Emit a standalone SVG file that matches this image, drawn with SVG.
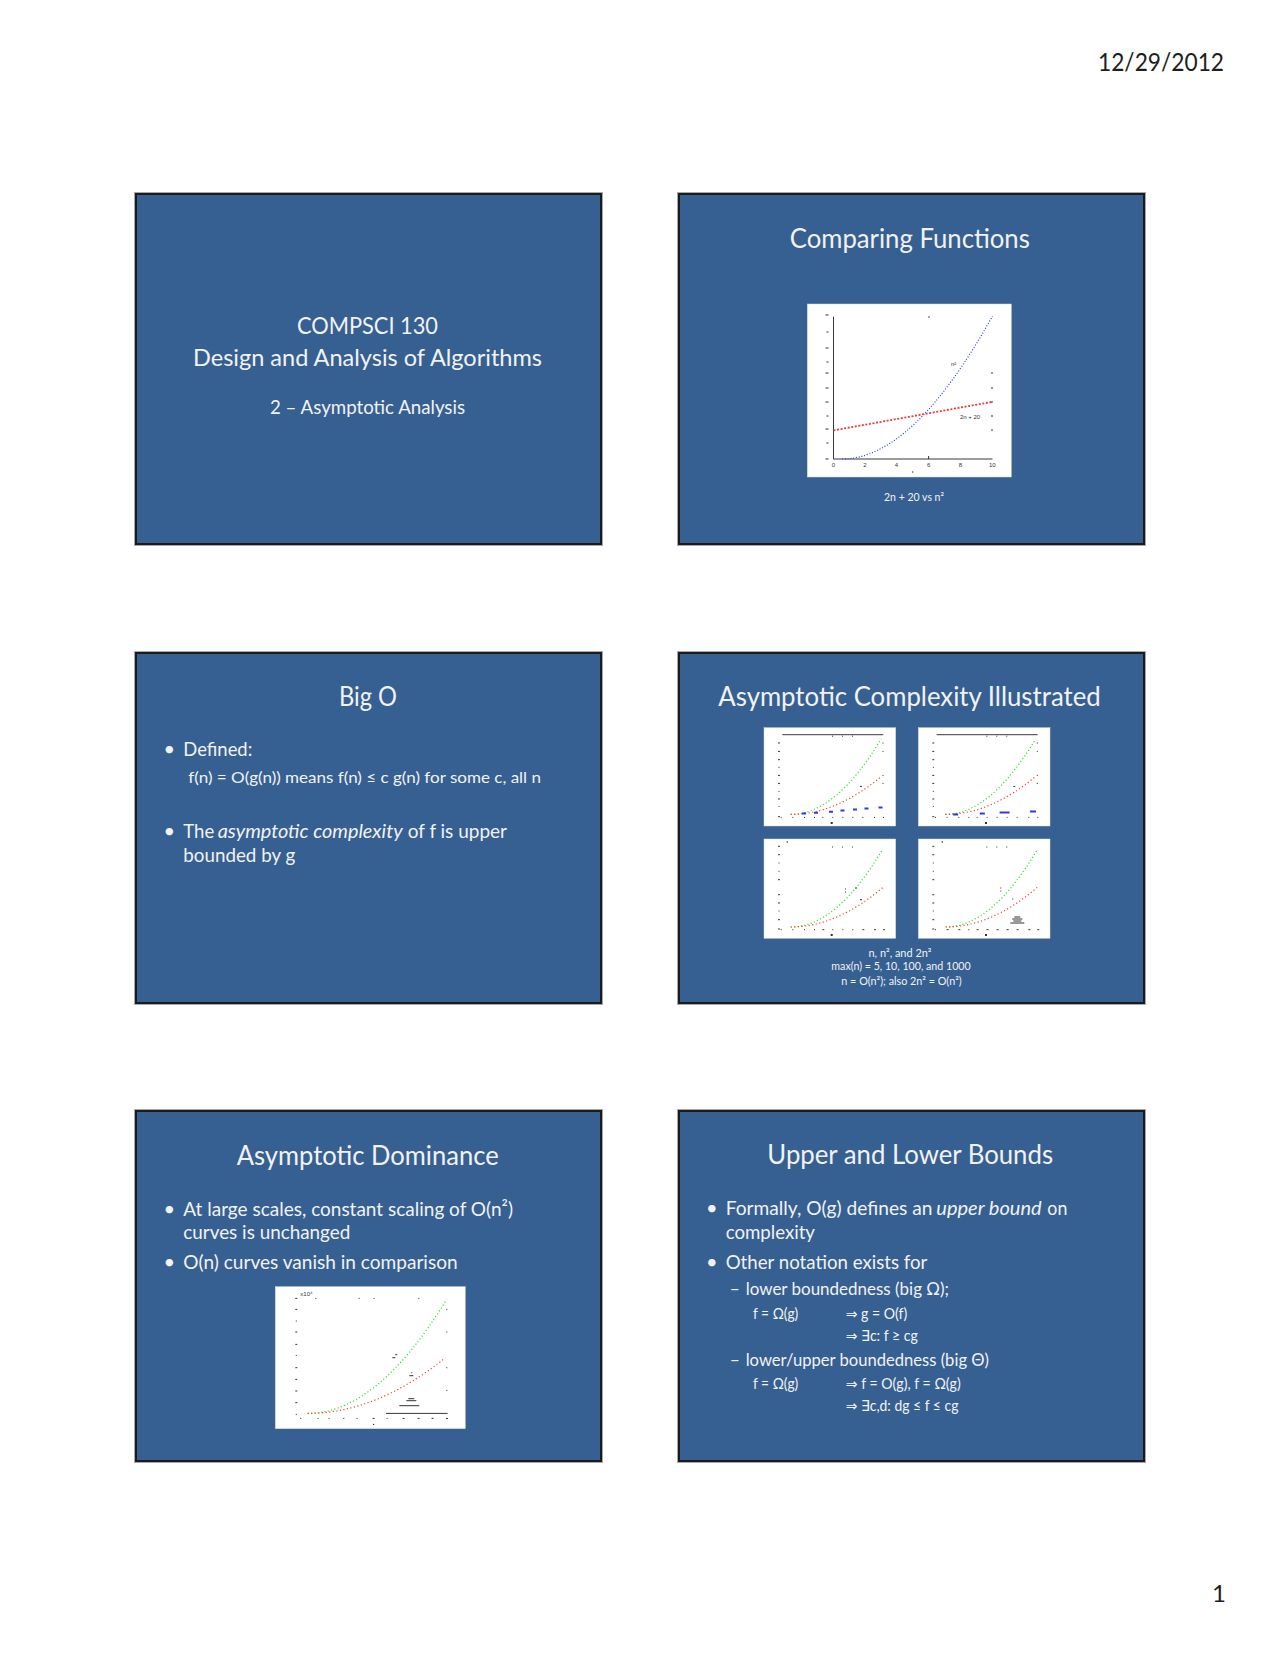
<svg xmlns="http://www.w3.org/2000/svg" width="1280" height="1656" viewBox="0 0 1280 1656">
<style>
.page{fill:#ffffff}
.slide{fill:#366092;stroke:#1b1b1b;stroke-width:2}
.halo{fill:none;stroke:#a8a8a8;stroke-width:1}
.t{font-family:Lato,"Open Sans","DejaVu Sans",sans-serif;fill:#f2f2f2}
.hdr{font-family:Lato,"Open Sans","DejaVu Sans",sans-serif;fill:#1e1e1e}
.title{font-size:27px}
.big{font-size:24px}
.body{font-size:20px}
.sub{font-size:17.5px}
.small{font-size:15px}
.form{font-size:16px}
.cap{font-size:11px}
.it{font-style:italic}
.chart{fill:#ffffff;stroke:#d8d8d8;stroke-width:0.5}
.ax{stroke:#222;stroke-width:0.9;fill:none}
.tk{stroke:#333;stroke-width:1;fill:none}
.dot{fill:#333}
.lbl{font-family:"Liberation Sans",sans-serif;font-size:6px;fill:#333}
.blu{fill:none;stroke:#2a3de0;stroke-width:1.2;stroke-dasharray:1 1.8}
.red{fill:none;stroke:#f03a3a;stroke-width:1.8;stroke-dasharray:2 1.6}
.grn{fill:none;stroke:#2ee02e;stroke-width:1.2;stroke-dasharray:1.2 2.2}
.rd2{fill:none;stroke:#f04040;stroke-width:1.2;stroke-dasharray:1.2 2.4}
.bar{stroke:#2a3de0;stroke-width:2}
</style>
<rect class="page" x="0" y="0" width="1280" height="1656"/>

<g id="header">
<text class="hdr" x="1224" y="71" font-size="25" text-anchor="end" textLength="126" lengthAdjust="spacingAndGlyphs">12/29/2012</text>
</g>
<g id="footer">
<text class="hdr" x="1226" y="1602" font-size="24" text-anchor="end">1</text>
</g>

<!-- Slide 1 -->
<g id="slide1" transform="translate(136,194)">
<rect class="halo" x="-1.5" y="-1.5" width="468" height="353"/>
<rect class="slide" x="0" y="0" width="465" height="350"/>
<text class="t big" x="231.5" y="140" text-anchor="middle" textLength="141" lengthAdjust="spacingAndGlyphs">COMPSCI 130</text>
<text class="t big" x="231.5" y="171.7" text-anchor="middle" textLength="349" lengthAdjust="spacingAndGlyphs">Design and Analysis of Algorithms</text>
<text class="t" font-size="19.5" x="231.5" y="220" text-anchor="middle" textLength="195" lengthAdjust="spacingAndGlyphs">2 – Asymptotic Analysis</text>
</g>

<!-- Slide 2 -->
<g id="slide2" transform="translate(679,194)">
<rect class="halo" x="-1.5" y="-1.5" width="468" height="353"/>
<rect class="slide" x="0" y="0" width="465" height="350"/>
<text class="t title" x="230.8" y="54.3" text-anchor="middle" textLength="240" lengthAdjust="spacingAndGlyphs">Comparing Functions</text>
<g id="chart-compare">
<rect class="chart" x="128.3" y="110" width="204" height="173"/>
<path class="ax" d="M154.5,122.7 V265 H313.5"/>
<path class="tk" d="M146.5,121h3M147.5,138h2M146.5,154h3M147.5,168h2M146.5,179h3M146.5,194h3M146.5,208h3M147.5,222h2M146.5,235h3M147.5,249h2M146.5,265h3"/>
<path class="tk" d="M312,179h2M312,194h2M312,208h2M312,222h2M312,236h2M249.6,265v-3"/>
<circle class="dot" cx="250" cy="123" r="0.8"/>
<circle class="dot" cx="233.7" cy="278" r="0.7"/>
<text class="lbl" x="154.5" y="273" text-anchor="middle">0</text>
<text class="lbl" x="186" y="273" text-anchor="middle">2</text>
<text class="lbl" x="217.5" y="273" text-anchor="middle">4</text>
<text class="lbl" x="249.6" y="273" text-anchor="middle">6</text>
<text class="lbl" x="281.4" y="273" text-anchor="middle">8</text>
<text class="lbl" x="313.3" y="273" text-anchor="middle">10</text>
<path class="blu" d="M163,265 Q234,265 313.5,122"/>
<path class="red" d="M154.5,236.4 L313.5,207.8"/>
<text class="lbl" x="272" y="172" font-size="7">n²</text>
<text class="lbl" x="281" y="225" font-size="7">2n + 20</text>
</g>
<text class="t cap" x="235" y="306.7" text-anchor="middle" textLength="60" lengthAdjust="spacingAndGlyphs">2n + 20 vs n²</text>
</g>

<!-- Slide 3 -->
<g id="slide3" transform="translate(136,653)">
<rect class="halo" x="-1.5" y="-1.5" width="468" height="353"/>
<rect class="slide" x="0" y="0" width="465" height="350"/>
<text class="t title" x="232" y="53.3" text-anchor="middle" textLength="58" lengthAdjust="spacingAndGlyphs">Big O</text>
<text class="t body" x="27.5" y="103.3">•</text>
<text class="t body" x="47.3" y="103.3" textLength="69" lengthAdjust="spacingAndGlyphs">Defined:</text>
<text class="t form" x="52.3" y="130" textLength="352.7" lengthAdjust="spacingAndGlyphs">f(n) = O(g(n)) means f(n) ≤ c g(n) for some c, all n</text>
<text class="t body" x="27.5" y="185">•</text>
<text class="t body" x="47.3" y="185" textLength="31" lengthAdjust="spacingAndGlyphs">The</text>
<text class="t body it" x="81.7" y="185" textLength="185" lengthAdjust="spacingAndGlyphs">asymptotic complexity</text>
<text class="t body" x="271.7" y="185" textLength="99.3" lengthAdjust="spacingAndGlyphs">of f is upper</text>
<text class="t body" x="47.3" y="209" textLength="112" lengthAdjust="spacingAndGlyphs">bounded by g</text>
</g>

<!-- Slide 4 -->
<g id="slide4" transform="translate(679,653)">
<rect class="halo" x="-1.5" y="-1.5" width="468" height="353"/>
<rect class="slide" x="0" y="0" width="465" height="350"/>
<text class="t title" x="230.5" y="53.3" text-anchor="middle" textLength="382.4" lengthAdjust="spacingAndGlyphs">Asymptotic Complexity Illustrated</text>

<g id="mini-tl" transform="translate(85,74.7)">
<rect class="chart" x="0" y="0" width="131.7" height="98.3"/>
<path class="ax" d="M18.3,7 H119.3"/>
<path class="tk" d="M14,15.3h2M14,23.7h2M14,32h2M14.5,39.7h1M14,47.7h2M14,55.7h2M14.5,63.7h1M14,71.3h2M14.5,78.7h1M14,89h2"/>
<path class="tk" d="M16.7,89.7h1M28.3,89.7h1M40,89.7h1M50,89.7h1M58.3,89.7h1M68.3,89.7h1M78.3,89.7h1M88.3,89.7h1M98.3,89.7h1M110,89.7h1M119,89.7h1M118.5,15.3h1M118.5,23.7h1M118.5,47.7h1M118.5,55.7h1M68,8.5h1M78,8.5h1M88,8.5h1M96,58.7h2"/>
<rect class="dot" x="66.7" y="94.3" width="2" height="2"/>
<path class="grn" d="M26.7,86.7 Q72,86.7 117.3,11"/>
<path class="rd2" d="M26.7,86.7 Q72,86.7 117.3,48.8"/>
<path class="bar" d="M38,85.7h4M50,85h4M65,84h4M76.5,82.7h4M89,81.7h4M100.5,80.7h4M114.5,79.7h4"/>
</g>

<g id="mini-tr" transform="translate(239.3,74.7)">
<rect class="chart" x="0" y="0" width="131.7" height="98.3"/>
<path class="ax" d="M18.3,7 H119.3"/>
<path class="tk" d="M14,15.3h2M14,23.7h2M14,32h2M14.5,39.7h1M14,47.7h2M14,55.7h2M14.5,63.7h1M14,71.3h2M14.5,78.7h1M14,89h2"/>
<path class="tk" d="M16.7,89.7h1M28.3,89.7h1M40,89.7h1M50,89.7h1M58.3,89.7h1M68.3,89.7h1M78.3,89.7h1M88.3,89.7h1M98.3,89.7h1M110,89.7h1M119,89.7h1M118.5,15.3h1M118.5,23.7h1M118.5,47.7h1M118.5,55.7h1M68,8.5h1M78,8.5h1M88,8.5h1M95,58.7h2"/>
<rect class="dot" x="66.7" y="94.3" width="2" height="2"/>
<path class="grn" d="M27,86.7 Q72,86.7 117.3,11.3"/>
<path class="rd2" d="M27,86.7 Q72,86.7 117.3,48.7"/>
<path class="bar" d="M34.8,86.7h5M61.5,85.7h5M81.3,84.7h10M111.7,83.7h6"/>
</g>

<g id="mini-bl" transform="translate(85,186)">
<rect class="chart" x="0" y="0" width="131.7" height="99.3"/>
<path class="tk" d="M14,7.3h2M14,15.7h2M14.5,24h1M14.5,32.3h1M14,40.7h2M14,55.7h2M14,64h2M14.5,72h1M14,80.7h2M14,90h2"/>
<path class="tk" d="M16.7,90.7h1M28.3,90.7h1M40,90.7h1M50,90.7h1M58.3,90.7h2M68.3,90.7h1M78.3,90.7h1M88.3,90.7h1M98.3,90.7h2M110,90.7h2M119,90.7h2M68,8h1M78,8h1M88,8h1M91,49h2M96,60.7h2M81,50h1M81,53h1"/>
<circle class="dot" cx="23.3" cy="3" r="0.8"/>
<rect class="dot" x="66.7" y="95" width="2" height="2"/>
<path class="grn" d="M26.7,88 Q72.5,88 118.3,10.7"/>
<path class="rd2" d="M26.7,88 Q72.5,88 119,48.3"/>
</g>

<g id="mini-br" transform="translate(239.3,186)">
<rect class="chart" x="0" y="0" width="131.7" height="99.3"/>
<path class="tk" d="M14,7.3h2M14,15.7h2M14.5,24h1M14.5,32.3h1M14,40.7h2M14,55.7h2M14,64h2M14.5,72h1M14,80.7h2M14,90h2"/>
<path class="tk" d="M16.7,90.7h1M28.3,90.7h2M40,90.7h2M50,90.7h1M58.3,90.7h2M68.3,90.7h2M78.3,90.7h2M88.3,90.7h2M98.3,90.7h2M110,90.7h2M119,90.7h2M68,8h1M78,8h1M88,8h1M82,49h1M82,52h1M94,60h1"/>
<circle class="dot" cx="24" cy="3" r="0.8"/>
<rect class="dot" x="66.7" y="95" width="2" height="2"/>
<path class="tk" d="M94,80h10M96,78h6M95,82h8M92,84h14" stroke-width="0.7"/>
<path class="grn" d="M27.3,88 Q73,88 119,10.7"/>
<path class="rd2" d="M27.3,88 Q73,88 119,48.3"/>
</g>

<text class="t cap" x="221" y="304" text-anchor="middle" textLength="63" lengthAdjust="spacingAndGlyphs">n, n², and 2n²</text>
<text class="t cap" x="222" y="317.3" text-anchor="middle" textLength="139.3" lengthAdjust="spacingAndGlyphs">max(n) = 5, 10, 100, and 1000</text>
<text class="t cap" x="222.5" y="331.7" text-anchor="middle" textLength="120.3" lengthAdjust="spacingAndGlyphs">n = O(n²); also 2n² = O(n²)</text>
</g>

<!-- Slide 5 -->
<g id="slide5" transform="translate(136,1111)">
<rect class="halo" x="-1.5" y="-1.5" width="468" height="353"/>
<rect class="slide" x="0" y="0" width="465" height="350"/>
<text class="t title" x="231.7" y="54" text-anchor="middle" textLength="262" lengthAdjust="spacingAndGlyphs">Asymptotic Dominance</text>
<text class="t body" x="27.5" y="105">•</text>
<text class="t body" x="47.3" y="105" textLength="329.7" lengthAdjust="spacingAndGlyphs">At large scales, constant scaling of O(n²)</text>
<text class="t body" x="47.3" y="128.3" textLength="167" lengthAdjust="spacingAndGlyphs">curves is unchanged</text>
<text class="t body" x="27.5" y="158.3">•</text>
<text class="t body" x="47.3" y="158.3" textLength="274.3" lengthAdjust="spacingAndGlyphs">O(n) curves vanish in comparison</text>
<g id="chart-dominance" transform="translate(139.3,175.7)">
<rect class="chart" x="0" y="0" width="190" height="142"/>
<path class="tk" d="M20,11.7h2M20,22.7h2M20.5,34.3h1M20,45.3h2M20,57.7h2M20.5,68.7h1M20,81h2M20,92.7h2M20,104.3h2M20,116h2M20.5,127.7h1"/>
<path class="tk" d="M25,131.7h1M42.3,131.7h1M53.3,131.7h1M68,131.7h1M81.3,131.7h1M97.3,131.7h2M111.3,131.7h1M127.3,131.7h2M142.3,131.7h2M156.3,131.7h2M170.7,131.7h2M171,22.7h1M171,45.3h1M171,81h1M171,103.7h1M40,11.7h1M83.3,11.7h1M98.3,11.7h1M143,11.7h1"/>
<text class="lbl" x="25" y="9" font-size="5">x10⁴</text>
<circle class="dot" cx="98.3" cy="137.7" r="0.7"/>
<path class="ax" d="M110.7,126.7 H172.3" stroke-width="1.4"/>
<path class="tk" d="M131,114h10M133,112h6M124,119h20M117,71h3M120,68h2M134,89h4M136,86h1" stroke-width="0.7"/>
<path class="grn" d="M32.3,126.7 Q101.8,126.7 171.3,12.7"/>
<path class="rd2" d="M32.3,126.7 Q101.2,126.7 170,71"/>
</g>
</g>

<!-- Slide 6 -->
<g id="slide6" transform="translate(679,1111)">
<rect class="halo" x="-1.5" y="-1.5" width="468" height="353"/>
<rect class="slide" x="0" y="0" width="465" height="350"/>
<text class="t title" x="231.2" y="53.3" text-anchor="middle" textLength="285.7" lengthAdjust="spacingAndGlyphs">Upper and Lower Bounds</text>
<text class="t body" x="27" y="104">•</text>
<text class="t body" x="46.7" y="104" textLength="206.7" lengthAdjust="spacingAndGlyphs">Formally, O(g) defines an</text>
<text class="t body it" x="257.3" y="104" textLength="105.3" lengthAdjust="spacingAndGlyphs">upper bound</text>
<text class="t body" x="368.3" y="104" textLength="20" lengthAdjust="spacingAndGlyphs">on</text>
<text class="t body" x="46.7" y="128.3" textLength="89.3" lengthAdjust="spacingAndGlyphs">complexity</text>
<text class="t body" x="27" y="158.3">•</text>
<text class="t body" x="46.7" y="158.3" textLength="201.7" lengthAdjust="spacingAndGlyphs">Other notation exists for</text>
<text class="t sub" x="50.7" y="184">–</text>
<text class="t sub" x="66.7" y="184" textLength="203.3" lengthAdjust="spacingAndGlyphs">lower boundedness  (big Ω);</text>
<text class="t small" x="74" y="208.3" textLength="45.3" lengthAdjust="spacingAndGlyphs">f = Ω(g)</text>
<text class="t small" x="166.7" y="208.3" textLength="61.7" lengthAdjust="spacingAndGlyphs">⇒ g = O(f)</text>
<text class="t small" x="166.7" y="230" textLength="72" lengthAdjust="spacingAndGlyphs">⇒ ∃c: f ≥ cg</text>
<text class="t sub" x="50.7" y="255">–</text>
<text class="t sub" x="66.7" y="255" textLength="243.3" lengthAdjust="spacingAndGlyphs">lower/upper boundedness (big Θ)</text>
<text class="t small" x="74" y="278.3" textLength="45.3" lengthAdjust="spacingAndGlyphs">f = Ω(g)</text>
<text class="t small" x="166.7" y="278.3" textLength="115" lengthAdjust="spacingAndGlyphs">⇒ f = O(g), f = Ω(g)</text>
<text class="t small" x="166.7" y="300" textLength="112.7" lengthAdjust="spacingAndGlyphs">⇒ ∃c,d: dg ≤ f ≤ cg</text>
</g>
</svg>
